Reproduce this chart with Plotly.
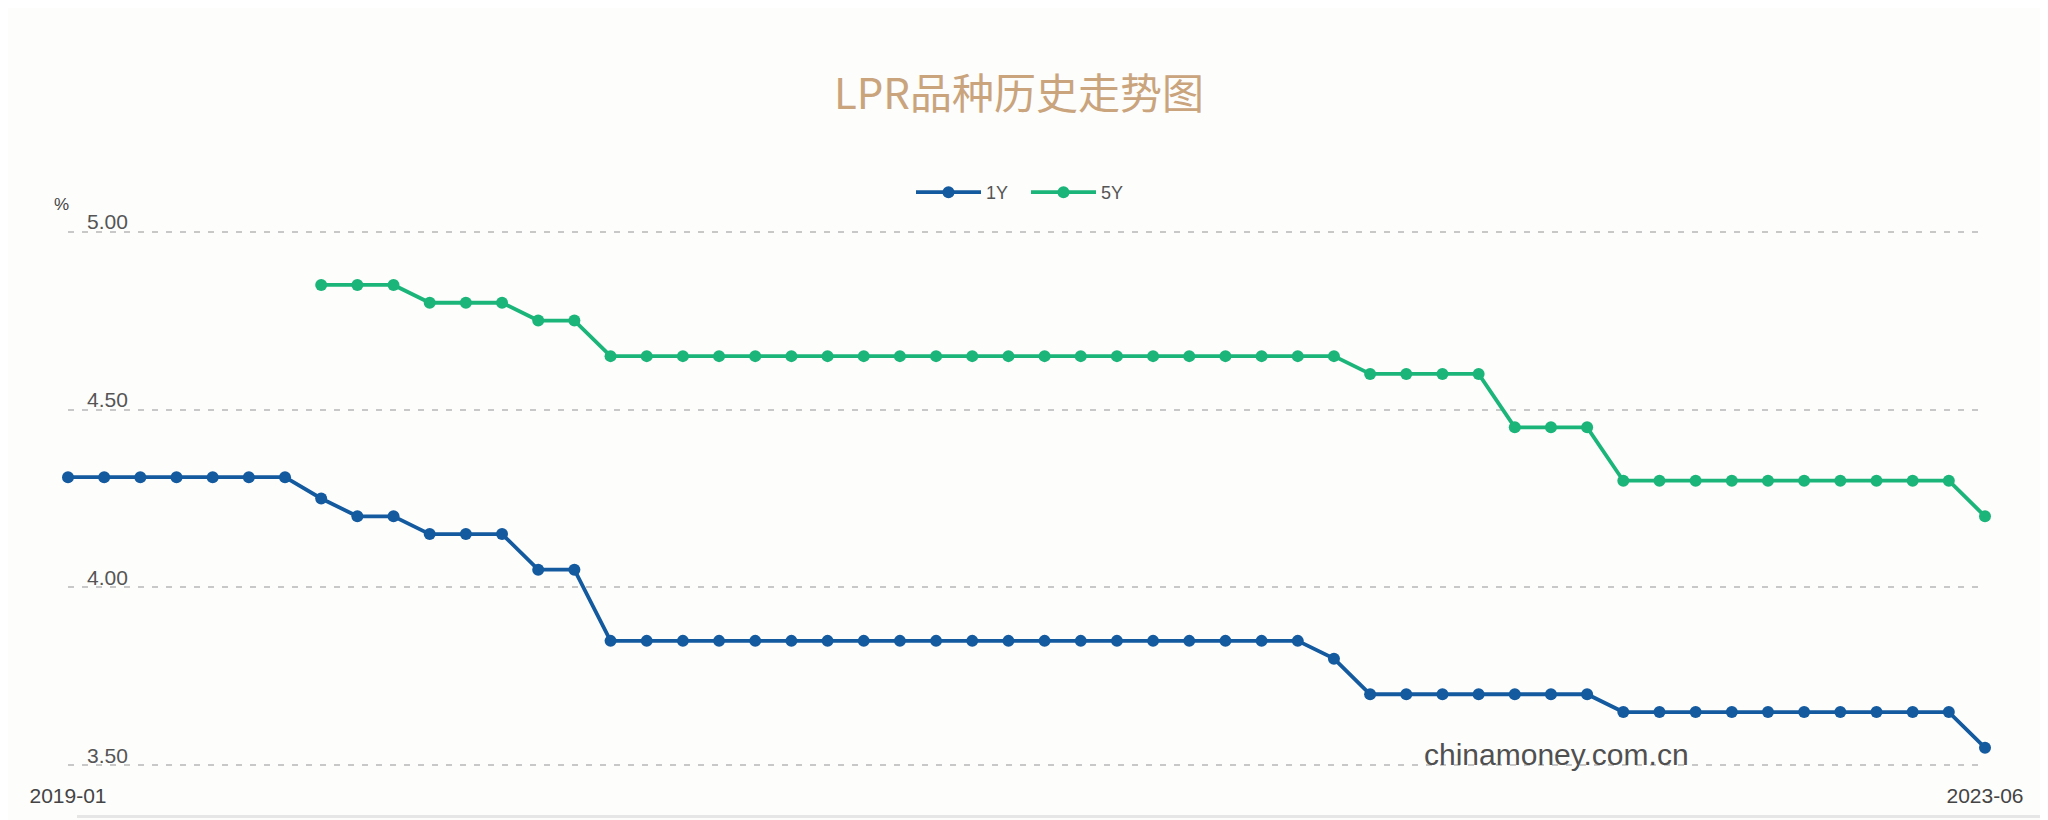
import plotly.graph_objects as go

# Monthly categories 2019-01 .. 2023-06
months = [f"{y}-{m:02d}" for y in range(2019, 2024) for m in range(1, 13)]
months = months[:months.index("2023-06") + 1]

lpr_1y = [4.31, 4.31, 4.31, 4.31, 4.31, 4.31, 4.31,
          4.25, 4.20, 4.20, 4.15, 4.15, 4.15, 4.05, 4.05,
          3.85, 3.85, 3.85, 3.85, 3.85, 3.85, 3.85, 3.85, 3.85, 3.85,
          3.85, 3.85, 3.85, 3.85, 3.85, 3.85, 3.85, 3.85, 3.85, 3.85,
          3.80,
          3.70, 3.70, 3.70, 3.70, 3.70, 3.70, 3.70,
          3.65, 3.65, 3.65, 3.65, 3.65, 3.65, 3.65, 3.65, 3.65, 3.65,
          3.55]

lpr_5y = [None, None, None, None, None, None, None,
          4.85, 4.85, 4.85, 4.80, 4.80, 4.80, 4.75, 4.75,
          4.65, 4.65, 4.65, 4.65, 4.65, 4.65, 4.65, 4.65, 4.65, 4.65,
          4.65, 4.65, 4.65, 4.65, 4.65, 4.65, 4.65, 4.65, 4.65, 4.65,
          4.65,
          4.60, 4.60, 4.60, 4.60,
          4.45, 4.45, 4.45,
          4.30, 4.30, 4.30, 4.30, 4.30, 4.30, 4.30, 4.30, 4.30, 4.30,
          4.20]

y_ticks = [3.50, 4.00, 4.50, 5.00]
x_ticks = ["2019-01", "2023-06"]

BLUE = "#135a9f"
GREEN = "#1bb57a"

# Screen geometry (page body adds an 8px offset)
OFF = 8
X0_S, X1_S = 68, 1985          # screen x of first / last month
Y5_S, Y35_S = 232, 765         # screen y of 5.00 / 3.50
PAD = 0.01                     # extra y range so edge gridlines are drawn
pxu = (Y35_S - Y5_S) / 1.5
L = X0_S - OFF
PW = X1_S - X0_S
T = Y5_S - OFF - PAD * pxu
PH = (Y35_S - Y5_S) + 2 * PAD * pxu
B = 820 - T - PH
R = 2048 - L - PW


def px(xs):
    return (xs - X0_S) / PW


def py(ys):
    return (Y35_S + PAD * pxu - ys) / PH


fig = go.Figure()
fig.add_trace(go.Scatter(x=months, y=lpr_1y, name="1Y", mode="lines+markers",
                         line=dict(color=BLUE, width=3.8),
                         marker=dict(color=BLUE, size=12),
                         cliponaxis=False))
fig.add_trace(go.Scatter(x=months, y=lpr_5y, name="5Y", mode="lines+markers",
                         line=dict(color=GREEN, width=3.8),
                         marker=dict(color=GREEN, size=12),
                         cliponaxis=False))

fig.update_layout(
    width=2048, height=820,
    paper_bgcolor="#fdfdfc", plot_bgcolor="#fdfdfc",
    margin=dict(l=L, r=R, t=T, b=B),
    font=dict(family="Liberation Sans, Arial, sans-serif", color="#555"),
    title=dict(text="LPR品种历史走势图", x=1011 / 2048, xanchor="center",
               y=1 - 86 / 820, yanchor="middle",
               font=dict(family="Noto Sans CJK SC, sans-serif", size=42, color="#c9a47c")),
    legend=dict(orientation="h", x=px(1026), xanchor="center", y=py(193), yanchor="middle",
                font=dict(size=18, color="#555"), itemwidth=65, entrywidth=35,
                bgcolor="rgba(0,0,0,0)"),
    showlegend=True,
)

fig.update_xaxes(type="category", range=[0, len(months) - 1],
                 tickvals=x_ticks, ticktext=x_ticks, ticklabeloverflow="allow",
                 showgrid=False, showline=False, zeroline=False, ticks="",
                 tickfont=dict(size=21, color="#444"), ticklabelstandoff=12)

fig.update_yaxes(range=[3.5 - PAD, 5.0 + PAD], tickvals=y_ticks,
                 ticktext=[f"{v:.2f}" for v in y_ticks],
                 ticklabelposition="inside top", ticklabelstandoff=16,
                 ticklabelshift=5, ticklabeloverflow="allow",
                 showgrid=True, gridcolor="#c8c8c8", gridwidth=2, griddash="6px,8px",
                 showline=False, zeroline=False, ticks="",
                 tickfont=dict(size=21, color="#555"))

fig.add_annotation(text="%", xref="paper", yref="paper", x=px(61), y=py(205),
                   showarrow=False, xanchor="center", yanchor="middle",
                   font=dict(size=17, color="#444"))
fig.add_annotation(text="chinamoney.com.cn", xref="paper", yref="paper",
                   x=px(1556), y=py(754),
                   showarrow=False, xanchor="center", yanchor="middle",
                   font=dict(size=30, color="#505050"))
fig.add_shape(type="line", xref="paper", yref="paper", x0=px(77), x1=px(2048),
              y0=py(816), y1=py(816),
              line=dict(color="#e6e6e6", width=3))

fig.write_html("out.html")
